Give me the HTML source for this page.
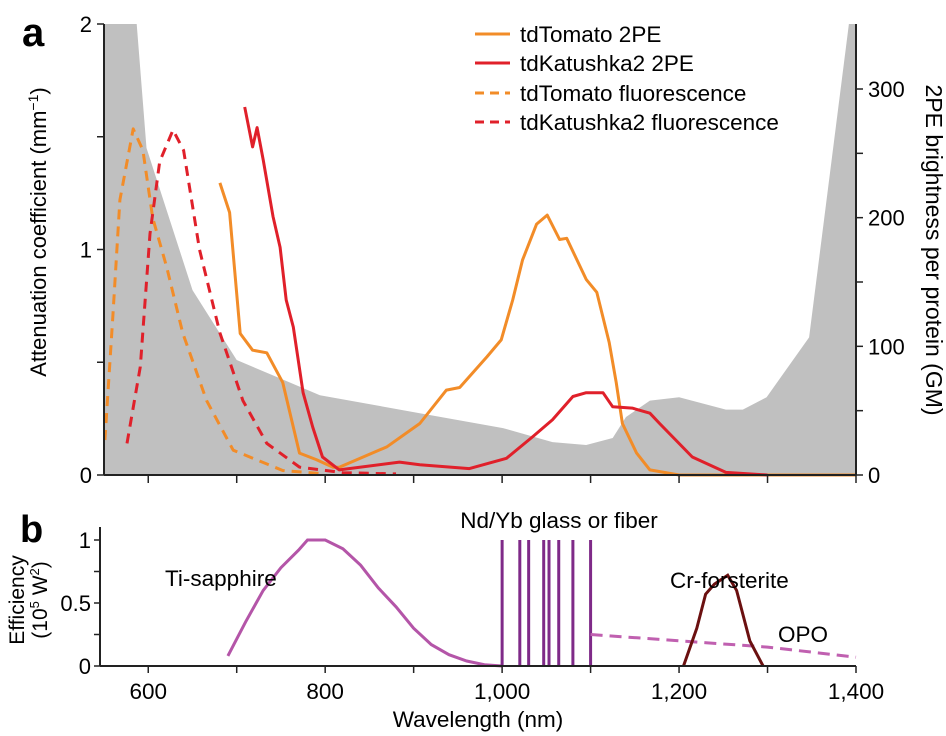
<!DOCTYPE html>
<html><head><meta charset="utf-8">
<style>
html,body{margin:0;padding:0;background:#fff;}
svg{display:block;font-family:"Liberation Sans",Arial,sans-serif;}
</style></head>
<body>
<svg id="chart" width="946" height="736" viewBox="0 0 946 736" xmlns="http://www.w3.org/2000/svg">
<g id="a-gray"></g>
<g id="a-lines"></g>
<g id="a-axes"></g>
<g id="b-lines"></g>
<g id="b-axes"></g>
<text x="22" y="46" font-size="40" font-weight="bold">a</text>
<text x="20" y="542" font-size="38" font-weight="bold">b</text>
<text transform="translate(46,232) rotate(-90)" text-anchor="middle" font-size="22">Attenuation coefficient (mm<tspan dy="-8" font-size="14">−1</tspan><tspan dy="8">)</tspan></text>
<text transform="translate(926,250) rotate(90)" text-anchor="middle" font-size="23">2PE brightness per protein (GM)</text>
<text transform="translate(24,600) rotate(-90)" text-anchor="middle" font-size="21">Efficiency</text>
<text transform="translate(47,600) rotate(-90)" text-anchor="middle" font-size="21">(10<tspan dy="-8" font-size="13">5</tspan><tspan dy="8"> W</tspan><tspan dy="-8" font-size="13">2</tspan><tspan dy="8">)</tspan></text>
<text x="478" y="727" text-anchor="middle" font-size="22.5">Wavelength (nm)</text>
<g>
<line x1="475" y1="34" x2="510" y2="34" stroke="#f28c28" stroke-width="3"/>
<text x="520" y="42" font-size="22.5">tdTomato 2PE</text>
<line x1="475" y1="63" x2="510" y2="63" stroke="#e0202a" stroke-width="3"/>
<text x="520" y="71" font-size="22.5">tdKatushka2 2PE</text>
<line x1="475" y1="93" x2="510" y2="93" stroke="#f28c28" stroke-width="3" stroke-dasharray="9,6"/>
<text x="520" y="101" font-size="22.5">tdTomato fluorescence</text>
<line x1="475" y1="122" x2="510" y2="122" stroke="#e0202a" stroke-width="3" stroke-dasharray="9,6"/>
<text x="520" y="130" font-size="22.5">tdKatushka2 fluorescence</text>
</g>
<text x="165" y="586" font-size="22.5">Ti-sapphire</text>
<text x="559" y="528" text-anchor="middle" font-size="22.5">Nd/Yb glass or fiber</text>
<text x="670" y="588" font-size="22.5">Cr-forsterite</text>
<text x="778" y="642" font-size="22.5">OPO</text>
</svg>
<script>
// Panel a data
const grayWl = [550,587,598,650,700,794,907,1001,1057,1095,1125,1140,1167,1200,1253,1272,1299,1347,1392,1400];
const grayVal = [2,2,1.45,0.82,0.51,0.354,0.274,0.208,0.146,0.133,0.164,0.257,0.33,0.345,0.29,0.29,0.345,0.61,2,2];
const tomWl = [681,692,704,718,734,752,771,790,809,816,870,907,937,952,983,999,1012,1023,1039,1051,1065,1073,1095,1107,1121,1129,1136,1152,1167,1200,1400];
const tomGM = [227,204,110,97,95,72,17,12,6,6,22,40,66,68,92,105,136,167,195,202,183,184,152,142,103,72,40,17,4,0,0];
const katWl = [709,718,723,730,741,749,756,764,775,786,797,816,884,907,963,1005,1035,1057,1080,1095,1114,1125,1147,1167,1178,1215,1253,1300];
const katGM = [286,255,270,245,201,177,136,115,64,37,14,4,10,8,5,13,30,43,61,64,64,53,52,48,40,14,2,0];
const tomFWl = [551,560,568,583,594,605,621,639,666,696,752,800];
const tomF = [0.155,0.70,1.22,1.535,1.44,1.14,0.92,0.63,0.33,0.11,0.02,0.005];
const katFWl = [576,591,602,613,628,640,658,681,707,734,771,820,880];
const katF = [0.14,0.48,1.07,1.39,1.53,1.44,1.0,0.63,0.33,0.14,0.035,0.01,0.005];
const leftTicks = [0,1,2];
const rightTicks = [0,100,200,300];
const xTickVals = [600,700,800,900,1000,1100,1200,1300,1400];
// Panel b data
const tiWl = [690,710,730,750,770,780,800,820,840,860,880,900,920,940,960,980,1000];
const tiEff = [0.08,0.35,0.6,0.78,0.92,1,1,0.93,0.8,0.62,0.47,0.3,0.17,0.09,0.04,0.01,0];
const ndLines = [1000,1020,1030,1047,1053,1064,1080,1100];
const ndHeight = 1.0;
const crWl = [1205,1220,1230,1240,1255,1265,1280,1295];
const crEff = [0,0.3,0.57,0.65,0.72,0.6,0.2,0];
const opoWl = [1100,1200,1300,1400];
const opoEff = [0.25,0.2,0.15,0.07];
const bTicks = [0,0.5,1];
const bXLabels = ['600','800','1,000','1,200','1,400'];
const bXLabelVals = [600,800,1000,1200,1400];

const NS='http://www.w3.org/2000/svg';
const X0=104, X1=856;
const x = w => X0 + (w-550)/(1400-550)*(X1-X0);
const yA = v => 475 - v*(475-24)/2;
const yGM = g => 475 - g*(475-89)/300;
const yB = v => 666 - v*126;
function mk(parent, tag, attrs){const e=document.createElementNS(NS,tag);for(const k in attrs)e.setAttribute(k,attrs[k]);document.getElementById(parent).appendChild(e);return e;}
function pts(ws,vs,fy){return ws.map((w,i)=>x(w).toFixed(1)+','+fy(vs[i]).toFixed(1)).join(' ');}

let g = mk('a-gray','polygon',{points: x(550)+','+yA(0)+' '+pts(grayWl,grayVal,yA)+' '+x(1400)+','+yA(0), fill:'#c0c0c0'});



const series=[[tomFWl,tomF,yA,'#f28c28',true,'tdtomato-fluorescence-line'],[katFWl,katF,yA,'#e0202a',true,'tdkatushka2-fluorescence-line'],[tomWl,tomGM,yGM,'#f28c28',false,'tdtomato-2pe-line'],[katWl,katGM,yGM,'#e0202a',false,'tdkatushka2-2pe-line']];
series.forEach(s=>{
  const e=mk('a-lines','polyline',{points:pts(s[0],s[1],s[2]),fill:'none',stroke:s[3],'stroke-width':3,'stroke-linejoin':'round'});
  if(s[4]) e.setAttribute('stroke-dasharray','10,7');
  
  
});

let e;
e=mk('a-axes','line',{x1:X0,y1:24,x2:X0,y2:475,stroke:'#222','stroke-width':2});
 
e=mk('a-axes','line',{x1:X1,y1:24,x2:X1,y2:475,stroke:'#222','stroke-width':2});
 
e=mk('a-axes','line',{x1:X0,y1:475,x2:X1,y2:475,stroke:'#222','stroke-width':2});
 
[0,0.5,1,1.5,2].forEach(v=>{const t=mk('a-axes','line',{x1:X0-7,y1:yA(v),x2:X0,y2:yA(v),stroke:'#222','stroke-width':1.5});});
leftTicks.forEach(v=>{const t=mk('a-axes','text',{x:X0-12,y:yA(v)+8,'text-anchor':'end','font-size':22});t.textContent=v;});
[0,50,100,150,200,250,300].forEach(v=>{const t=mk('a-axes','line',{x1:X1,y1:yGM(v),x2:X1+7,y2:yGM(v),stroke:'#222','stroke-width':1.5});});
rightTicks.forEach(v=>{const t=mk('a-axes','text',{x:X1+12,y:yGM(v)+8,'font-size':22});t.textContent=v;});
xTickVals.forEach(v=>{const t=mk('a-axes','line',{x1:x(v),y1:475,x2:x(v),y2:483,stroke:'#222','stroke-width':1.5});});

e=mk('b-lines','polyline',{points:pts(tiWl,tiEff,yB),fill:'none',stroke:'#b455a8','stroke-width':3});
 
ndLines.forEach(w=>{const t=mk('b-lines','line',{x1:x(w),y1:yB(0),x2:x(w),y2:yB(ndHeight),stroke:'#7f2a88','stroke-width':3});});
e=mk('b-lines','polyline',{points:pts(opoWl,opoEff,yB),fill:'none',stroke:'#c060b0','stroke-width':3,'stroke-dasharray':'12,7'});
 
e=mk('b-lines','polyline',{points:pts(crWl,crEff,yB),fill:'none',stroke:'#6b1010','stroke-width':3});
 
e=mk('b-axes','line',{x1:X0-4,y1:527,x2:X0-4,y2:666,stroke:'#222','stroke-width':2});
 
e=mk('b-axes','line',{x1:X0-4,y1:666,x2:X1,y2:666,stroke:'#222','stroke-width':2});
 
[0,0.25,0.5,0.75,1].forEach(v=>{const t=mk('b-axes','line',{x1:X0-10,y1:yB(v),x2:X0-4,y2:yB(v),stroke:'#222','stroke-width':1.5});});
bTicks.forEach(v=>{const t=mk('b-axes','text',{x:X0-13,y:yB(v)+8,'text-anchor':'end','font-size':22});t.textContent=v;});
xTickVals.forEach(v=>{const t=mk('b-axes','line',{x1:x(v),y1:666,x2:x(v),y2:673,stroke:'#222','stroke-width':1.5});});
bXLabelVals.forEach((v,i)=>{const t=mk('b-axes','text',{x:x(v),y:699,'text-anchor':'middle','font-size':22.5});t.textContent=bXLabels[i];});
</script>
</body></html>
